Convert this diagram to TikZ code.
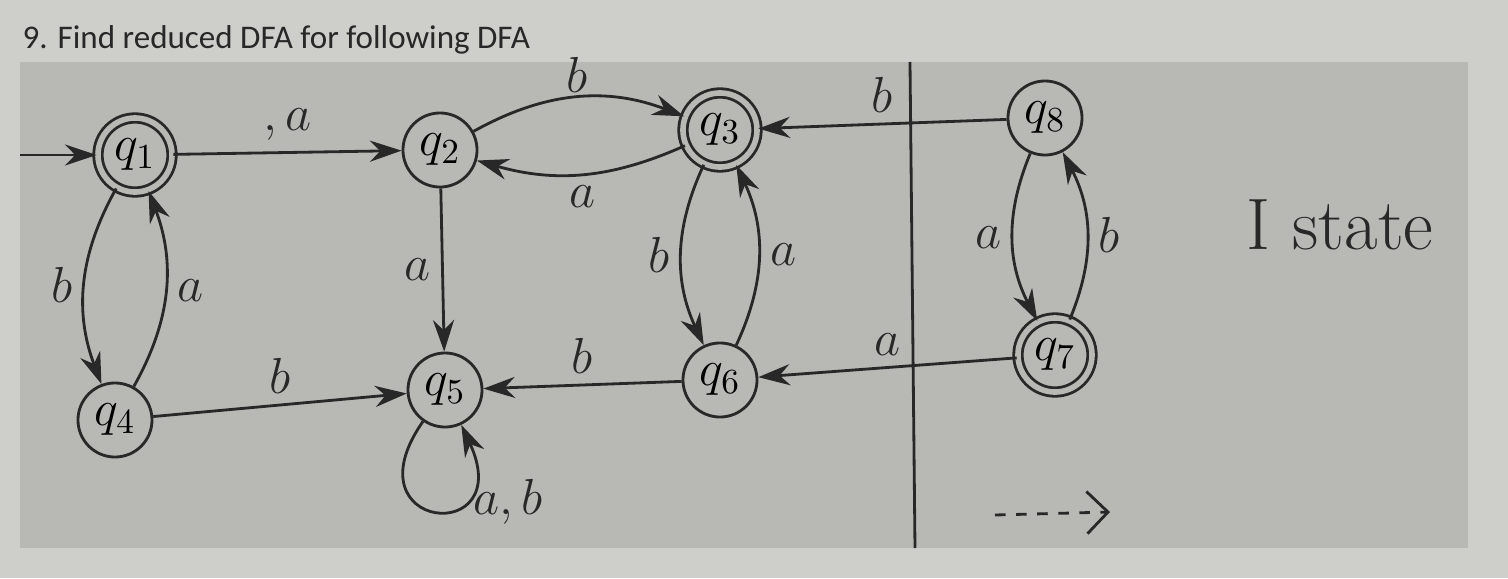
\documentclass[tikz,border=0pt]{standalone}
\usepackage{fontspec}
\newfontfamily\titlefont{Carlito}
\usetikzlibrary{arrows.meta}
\definecolor{paper}{RGB}{206,206,203}
\definecolor{sheet}{RGB}{184,184,181}
\definecolor{ink}{RGB}{40,40,40}
\begin{document}
\begin{tikzpicture}
  [x=0.01cm,y=0.01cm,
   state/.style={circle,draw=ink,thick,minimum size=0.74cm,inner sep=0pt,font=\Large},
   acc/.style={state,double=sheet,double distance=1.6pt},
   lbl/.style={font=\Large,inner sep=3pt,text=ink},
   tr/.style={ink,thick,-{Stealth[length=9pt,width=6pt]}}]
\fill[paper] (0,0) rectangle (1508,578);
\useasboundingbox (0,0) rectangle (1508,578);
\fill[sheet] (20,30) rectangle (1468,516);
\node[anchor=west,inner sep=0pt,text=ink] (title) at (22,538)
  {\titlefont\fontsize{9.4}{11}\selectfont 9. Find reduced DFA for following DFA};

\node (q1)[acc] at (135,423) {$q_1$};
  \node (q2)[state] at (440,428) {$q_2$};
  \node (q3)[acc] at (720,448) {$q_3$};
  \node (q8)[state] at (1045,460) {$q_8$};
  \node (q4)[state] at (115,158) {$q_4$};
  \node (q5)[state] at (445,188) {$q_5$};
  \node (q6)[state] at (720,198) {$q_6$};
  \node (q7)[acc] at (1055,223) {$q_7$};
\coordinate (start) at (20,423);
\draw[tr] (start) -- (q1);

\draw[ink,thick] (910,516) -- (915,30);

 \foreach \from/\to/\lab/\where in {q1/q2/{,a}/above,q8/q3/b/above,q2/q5/a/left,
     q4/q5/b/above,q6/q5/b/above,q7/q6/a/above}
    \draw[tr] (\from) -- node[lbl,\where] {$\lab$} (\to);

\draw[tr] (q2) to[bend left=25] node[lbl,above,inner sep=1pt] {$b$} (q3);
\draw[tr] (q3) to[bend left=20] node[lbl,below] {$a$} (q2);
\draw[tr] (q1) to[bend right=25] node[lbl,left] {$b$} (q4);
\draw[tr] (q4) to[bend right=25] node[lbl,right] {$a$} (q1);
\draw[tr] (q3) to[bend right=25] node[lbl,left] {$b$} (q6);
\draw[tr] (q6) to[bend right=25] node[lbl,right] {$a$} (q3);
\draw[tr] (q8) to[bend right=25] node[lbl,left] {$a$} (q7);
\draw[tr] (q7) to[bend right=25] node[lbl,right] {$b$} (q8);
\draw[tr] (q5) to[out=235,in=295,looseness=9] node[lbl,right,pos=0.68] {$a,b$} (q5);

\node[lbl,font=\huge] (istate) at (1340,353) {I state};
\coordinate (dashA) at (995,63);
\coordinate (dashB) at (1110,66);
\draw[ink,thick,dashed,-{Straight Barb[length=6pt]}] (dashA) -- (dashB);
\end{tikzpicture}
\end{document}
